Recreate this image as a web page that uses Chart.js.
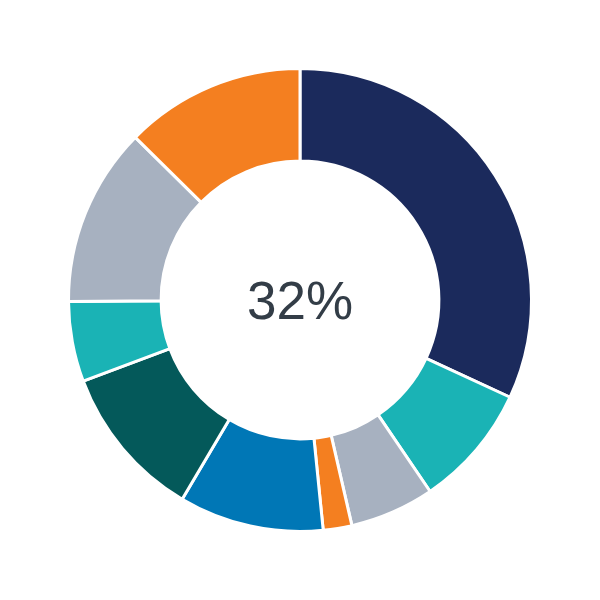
<!DOCTYPE html>
<html>
<head>
<meta charset="utf-8">
<script src="https://cdn.jsdelivr.net/npm/chart.js@4"></script>
<style>
  html, body { margin: 0; padding: 0; background: #fff; }
  #wrap { position: relative; width: 600px; height: 600px; }
  #center-label {
    position: absolute; left: 0; top: 0; width: 600px; height: 600px;
    display: flex; align-items: center; justify-content: center;
    font-family: "Liberation Sans", Arial, sans-serif; font-size: 53px;
    color: #333d47; pointer-events: none;
  }
</style>
</head>
<body>
<div id="wrap">
  <canvas id="donut" width="600" height="600"></canvas>
  <div id="center-label">32%</div>
</div>
<script>
// segment shares, clockwise from 12 o'clock
const segmentLabels = ["A", "B", "C", "D", "E", "F", "G", "H", "I"];
const segmentValues = [31.9, 8.6, 5.9, 2.0, 10.1, 10.8, 5.6, 12.5, 12.6];
const segmentColors = ["#1b2a5c", "#1ab3b5", "#a7b1c0", "#f47f20", "#0077b6", "#04595a", "#1ab3b5", "#a7b1c0", "#f47f20"];

const ctx = document.getElementById('donut').getContext('2d');
const donutChart = new Chart(ctx, {
  type: 'doughnut',
  data: {
    labels: segmentLabels,
    datasets: [{
      data: segmentValues,
      backgroundColor: segmentColors,
      borderColor: '#ffffff',
      borderWidth: 3
    }]
  },
  options: {
    responsive: false,
    animation: false,
    cutout: '60%',
    layout: { padding: 67 },
    plugins: {
      legend: { display: false },
      tooltip: { enabled: false }
    }
  }
});
</script>
</body>
</html>
